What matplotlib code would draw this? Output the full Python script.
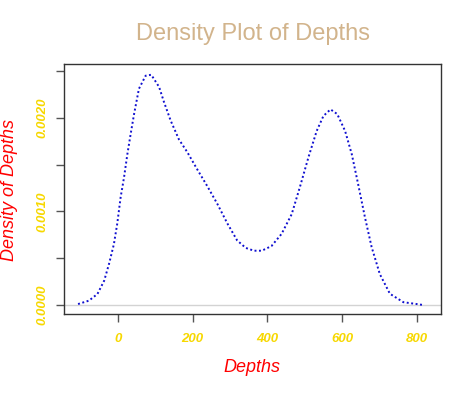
import matplotlib
matplotlib.use("Agg")
from matplotlib import pyplot as plt

# density curve
depth = [-107, -78, -55, -37, -24, -11, -2, 7, 16, 25, 34, 43, 56, 74, 89,
         110, 123, 141, 163, 186, 212, 239, 266, 293, 319, 342, 364, 385,
         411, 438, 465, 487, 510, 532, 550, 569, 587, 608, 626, 643, 661,
         679, 701, 728, 764, 800, 817]
density = [0.00001, 0.000046, 0.000118, 0.00026, 0.00044, 0.00065, 0.00087,
           0.00115, 0.00136, 0.00161, 0.00183, 0.00204, 0.00231, 0.00245,
           0.00246, 0.00233, 0.00217, 0.00197, 0.00177, 0.00163, 0.00145,
           0.00127, 0.00108, 0.00087, 0.00069, 0.00061, 0.00058, 0.00058,
           0.00063, 0.00076, 0.00097, 0.00126, 0.00158, 0.00186, 0.00202,
           0.00209, 0.00204, 0.00186, 0.00161, 0.00129, 0.00094, 0.00062,
           0.00033, 0.00012, 0.00003, 0.00001, 0.0]

xticks = [0, 200, 400, 600, 800]
yticks = [0.0, 0.0005, 0.001, 0.0015, 0.002, 0.0025]
ylabels = ["0.0000", "", "0.0010", "", "0.0020", ""]

plt.rcParams['font.family'] = ['Liberation Sans', 'DejaVu Sans']

fig = plt.figure(figsize=(4.74, 3.95), dpi=100)
ax = fig.add_axes([64/474, 1-314/395, 377/474, 250/395])

ax.axhline(0, color='#d3d3d3', lw=1)
ax.plot(depth, density, color='#1010d0', lw=1.4, linestyle=(0, (1, 1.3)))

ax.set_xlim(-144.6, 864.8)
ax.set_ylim(-0.0000962, 0.002575)

ax.set_xticks(xticks)
ax.set_xticklabels([str(v) for v in xticks])
ax.set_yticks(yticks)
ax.set_yticklabels(ylabels, rotation=90, va='center')

gold = '#f7d800'
ax.tick_params(axis='both', direction='out', length=6, width=1,
               color='#555555', labelcolor=gold, labelsize=9.5)
ax.tick_params(axis='x', pad=8)
ax.tick_params(axis='y', pad=5)
for lab in ax.get_xticklabels() + ax.get_yticklabels():
    lab.set_fontweight('bold')
    lab.set_fontstyle('italic')

for s in ax.spines.values():
    s.set_color('#333333')
    s.set_linewidth(1)

ax.set_title("Density Plot of Depths", color='#d2b48c', fontsize=17,
             y=1.12, pad=0, va='center')
fig.text(10/474, 1-190/395, "Density of Depths", color='red', fontsize=13,
         style='italic', rotation=90, ha='center', va='center')
fig.text(252/474, 1-368/395, "Depths", color='red', fontsize=13,
         style='italic', ha='center', va='center')

fig.savefig("out.png", dpi=100)
